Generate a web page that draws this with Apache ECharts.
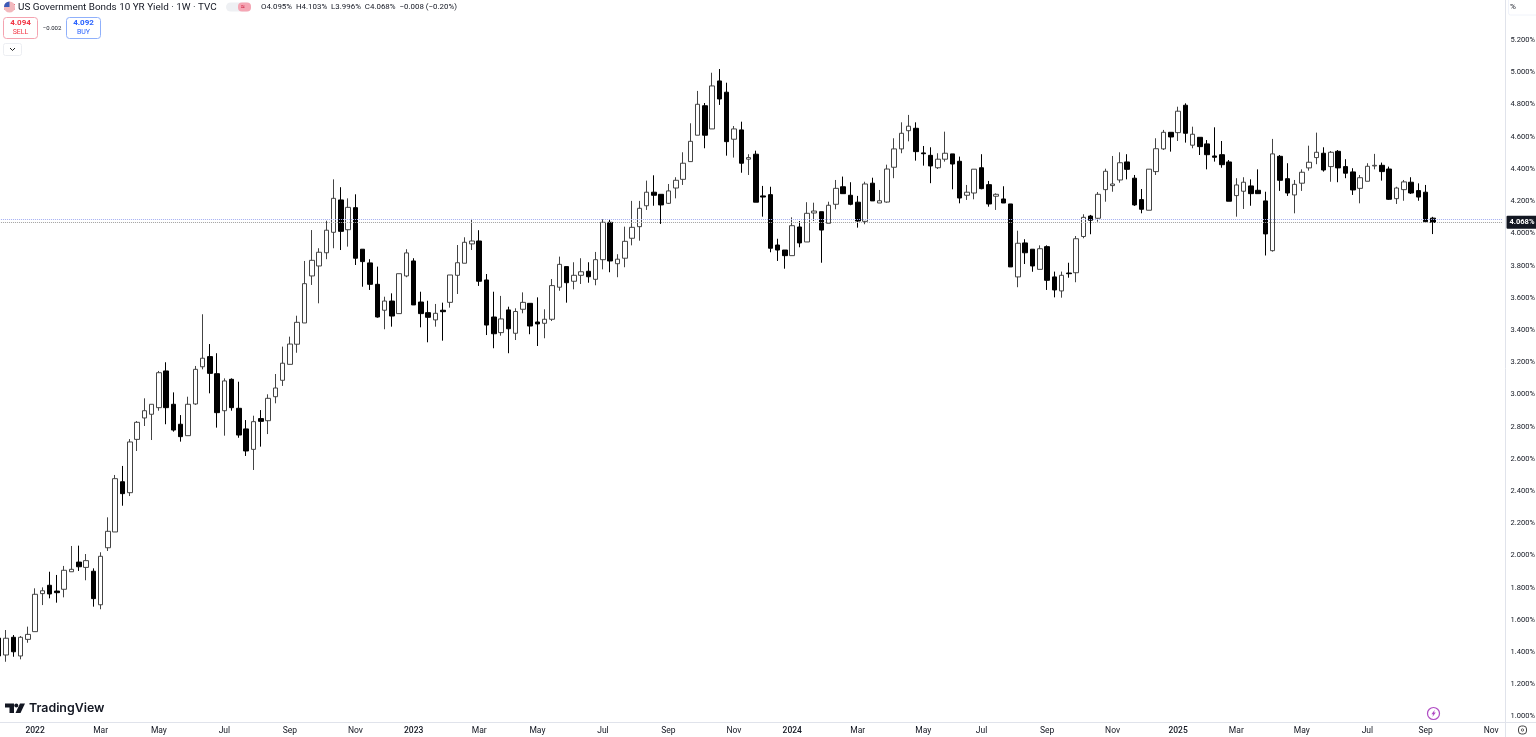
<!DOCTYPE html>
<html><head><meta charset="utf-8">
<style>html,body{margin:0;padding:0;background:#fff}#c{width:1536px;height:737px}</style>
<script src="https://cdn.jsdelivr.net/npm/echarts@6/dist/echarts.min.js"></script>
</head><body><div id="c"></div>
<script>
const firstWeek = '2021-11-29';
const weekCount = 207;
const monthTicks = {0:'',2:'Mar',4:'May',6:'Jul',8:'Sep',10:'Nov'};
const opens = [
1.487,1.382,1.492,1.376,1.479,1.527,1.763,1.815,1.779,1.790,
1.899,1.959,1.926,1.902,1.694,2.048,2.146,2.458,2.390,2.721,
2.854,2.877,2.918,3.146,2.939,2.815,2.744,2.941,3.172,3.235,
3.129,2.899,3.094,2.914,2.786,2.659,2.850,2.837,2.986,3.088,
3.187,3.312,3.444,3.736,3.798,3.880,4.007,4.208,4.023,4.160,
3.902,3.817,3.684,3.523,3.580,3.502,3.736,3.829,3.574,3.508,
3.463,3.523,3.572,3.740,3.815,3.935,3.953,3.711,3.481,3.384,
3.525,3.380,3.529,3.566,3.450,3.442,3.467,3.666,3.794,3.703,
3.740,3.765,3.715,3.837,4.069,3.812,3.846,3.970,4.042,4.172,
4.256,4.243,4.187,4.282,4.336,4.446,4.610,4.793,4.649,4.947,
4.877,4.585,4.643,4.461,4.492,4.233,4.241,3.928,3.897,3.862,
4.040,3.947,4.127,4.135,4.063,4.181,4.290,4.237,4.194,4.075,
4.312,4.189,4.195,4.411,4.525,4.638,4.653,4.500,4.485,4.408,
4.461,4.494,4.448,4.237,4.251,4.408,4.303,4.231,4.214,4.183,
3.730,3.941,3.902,3.777,3.918,3.730,3.643,3.754,3.756,3.981,
4.108,4.094,4.272,4.297,4.332,4.444,4.343,4.210,4.144,4.384,
4.525,4.628,4.626,4.796,4.548,4.597,4.556,4.481,4.489,4.444,
4.235,4.262,4.295,4.268,4.202,3.893,4.479,4.340,4.239,4.312,
4.407,4.471,4.498,4.415,4.510,4.415,4.382,4.280,4.324,4.419,
4.423,4.400,4.216,4.272,4.318,4.266,4.256,4.095];
const closes = [
1.376,1.486,1.402,1.492,1.510,1.759,1.781,1.761,1.769,1.908,
1.914,1.930,1.968,1.732,1.995,2.150,2.477,2.384,2.705,2.827,
2.899,2.939,3.135,2.918,2.779,2.738,2.939,3.156,3.225,3.131,
2.887,3.084,2.918,2.748,2.649,2.831,2.833,2.976,3.040,3.194,
3.313,3.448,3.688,3.833,3.883,4.020,4.218,4.013,4.162,3.846,
3.825,3.684,3.481,3.580,3.487,3.750,3.879,3.556,3.502,3.479,
3.504,3.514,3.742,3.818,3.945,3.953,3.703,3.431,3.377,3.469,
3.408,3.515,3.572,3.425,3.438,3.467,3.676,3.808,3.694,3.740,
3.762,3.731,3.837,4.069,3.829,3.840,3.951,4.038,4.156,4.256,
4.237,4.177,4.264,4.330,4.436,4.572,4.802,4.610,4.916,4.835,
4.570,4.649,4.436,4.471,4.194,4.226,3.908,3.897,3.862,4.048,
3.941,4.125,4.139,4.021,4.175,4.280,4.247,4.181,4.077,4.307,
4.202,4.203,4.400,4.525,4.622,4.666,4.508,4.495,4.419,4.461,
4.498,4.431,4.220,4.256,4.399,4.278,4.183,4.243,4.189,3.792,
3.939,3.880,3.798,3.905,3.709,3.649,3.740,3.750,3.967,4.100,
4.082,4.243,4.386,4.307,4.439,4.398,4.177,4.150,4.399,4.526,
4.628,4.599,4.759,4.622,4.616,4.539,4.489,4.473,4.427,4.200,
4.301,4.318,4.247,4.247,3.997,4.494,4.330,4.251,4.305,4.380,
4.442,4.504,4.394,4.504,4.407,4.374,4.270,4.346,4.417,4.423,
4.384,4.212,4.282,4.320,4.251,4.226,4.073,4.068];
const highs = [
1.537,1.537,1.506,1.500,1.558,1.796,1.802,1.899,1.879,1.935,
2.059,2.061,2.009,1.920,2.020,2.237,2.500,2.556,2.723,2.835,
2.976,2.939,3.146,3.200,3.013,2.872,2.986,3.177,3.498,3.313,
3.256,3.100,3.100,3.079,2.841,2.868,2.903,3.001,3.127,3.297,
3.359,3.489,3.829,4.021,3.908,4.079,4.336,4.287,4.218,4.243,
3.902,3.840,3.794,3.607,3.628,3.750,3.902,3.846,3.638,3.582,
3.562,3.570,3.742,3.928,3.976,4.090,4.020,3.748,3.638,3.612,
3.545,3.535,3.634,3.566,3.603,3.529,3.717,3.856,3.794,3.821,
3.846,3.821,3.885,4.088,4.088,3.871,4.042,4.202,4.202,4.328,
4.361,4.243,4.307,4.349,4.504,4.684,4.885,4.810,4.998,5.021,
4.936,4.667,4.694,4.492,4.514,4.295,4.290,3.967,3.897,4.100,
4.077,4.194,4.191,4.135,4.197,4.332,4.353,4.318,4.233,4.321,
4.346,4.270,4.427,4.591,4.690,4.736,4.690,4.543,4.535,4.498,
4.632,4.494,4.477,4.301,4.399,4.492,4.326,4.249,4.293,4.183,
4.017,3.964,3.902,3.926,3.926,3.763,3.763,3.818,3.984,4.119,
4.115,4.257,4.402,4.481,4.504,4.492,4.363,4.276,4.399,4.591,
4.643,4.628,4.787,4.808,4.663,4.597,4.580,4.659,4.574,4.456,
4.343,4.349,4.336,4.398,4.259,4.587,4.487,4.436,4.332,4.398,
4.545,4.626,4.535,4.512,4.518,4.461,4.405,4.363,4.436,4.494,
4.440,4.415,4.290,4.332,4.349,4.311,4.301,4.103];
const lows = [
1.338,1.340,1.371,1.355,1.458,1.527,1.692,1.734,1.707,1.740,
1.899,1.904,1.846,1.682,1.666,2.028,2.146,2.309,2.369,2.649,
2.804,2.717,2.899,2.815,2.769,2.707,2.744,2.935,3.156,3.007,
2.794,2.744,2.899,2.731,2.618,2.531,2.676,2.754,2.945,3.053,
3.187,3.259,3.444,3.680,3.566,3.840,3.908,3.897,3.918,3.804,
3.669,3.649,3.477,3.405,3.421,3.502,3.728,3.556,3.417,3.324,
3.421,3.334,3.539,3.624,3.815,3.897,3.674,3.369,3.287,3.365,
3.256,3.338,3.504,3.374,3.301,3.349,3.456,3.644,3.570,3.653,
3.686,3.694,3.678,3.777,3.759,3.728,3.790,3.926,3.955,4.146,
4.172,4.059,4.183,4.218,4.301,4.446,4.610,4.529,4.649,4.798,
4.483,4.471,4.377,4.363,4.194,4.104,3.883,3.829,3.781,3.862,
3.914,3.947,4.077,3.818,4.063,4.150,4.247,4.175,4.036,4.057,
4.202,4.189,4.191,4.343,4.498,4.572,4.452,4.421,4.312,4.400,
4.446,4.274,4.187,4.208,4.212,4.274,4.166,4.146,4.189,3.792,
3.666,3.810,3.762,3.777,3.649,3.603,3.601,3.725,3.697,3.970,
3.995,4.073,4.197,4.259,4.315,4.336,4.171,4.125,4.144,4.363,
4.518,4.508,4.574,4.564,4.529,4.487,4.398,4.446,4.408,4.200,
4.104,4.152,4.172,4.247,3.863,3.887,4.264,4.233,4.125,4.264,
4.390,4.430,4.384,4.321,4.318,4.343,4.239,4.187,4.324,4.398,
4.328,4.208,4.183,4.203,4.245,4.203,4.067,3.996];
const lastPrice = 4.068, buyPrice = 4.092;
const headerTitle = 'US Government Bonds 10 YR Yield · 1W · TVC';
const headerOhlc = 'O4.095%  H4.103%  L3.996%  C4.068%  −0.008 (−0.20%)';

const categories = [];
for (let i = 0; i < weekCount; i++) {
  const d = new Date(Date.parse(firstWeek + 'T00:00:00Z') + i * 7 * 864e5);
  categories.push(d.toISOString().slice(0, 10));
}
function tickOf(s) {
  const y = +s.slice(0, 4), m = +s.slice(5, 7) - 1, day = +s.slice(8, 10);
  if (day > 7 || !(m in monthTicks)) return null;
  return m === 0 ? String(y) : monthTicks[m];
}
const font = 'Roboto, "Liberation Sans", sans-serif';
const ink = '#131722', rule = '#e0e3eb';
const T = (x, y, text, o) => ({type:'text', x, y, silent:true, z:50,
  style:Object.assign({text, fill:ink, font:'9px '+font, textVerticalAlign:'middle'}, o||{})});
const R = (x, y, w, h, r, fill, stroke) => ({type:'rect', silent:true, z:49,
  shape:{x, y, width:w, height:h, r}, style:{fill, stroke, lineWidth:1}});
const L = (x1, y1, x2, y2, c) => ({type:'line', silent:true, z:48,
  shape:{x1, y1, x2, y2}, style:{stroke:c, lineWidth:1}});
const graphics = [
  L(1505.5, 0, 1505.5, 737, rule),
  L(0, 722.5, 1536, 722.5, rule),
  R(1508.5, -2, 30, 17, 2, '#fff', '#f0f3fa'),
  T(1510, 7, '%', {font:'8px '+font}),
  {type:'circle', silent:true, z:49, shape:{cx:9.5, cy:7, r:5.5}, style:{fill:'#f2b8bd'}},
  {type:'sector', silent:true, z:50, shape:{cx:9.5, cy:7, r:5.5, startAngle:Math.PI, endAngle:Math.PI*1.5}, style:{fill:'#3a5bb8'}},
  L(9.5, 4.5, 15, 4.5, '#e2535f'), L(4, 9, 15, 9, '#e2535f'),
  T(18, 7.5, headerTitle, {font:'9.9px '+font}),
  R(226, 2.5, 25, 9, 4.5, '#eef0f3', null),
  R(238, 2.5, 13, 9, 4, '#f5a6b4', null),
  L(229, 7, 234, 7, '#777'),
  T(241, 7, '≈', {font:'bold 7px '+font, fill:'#d02a4a'}),
  T(261, 7.5, headerOhlc, {font:'7.9px '+font}),
  R(3.5, 17.5, 34, 21, 3, '#fff', '#f4a3b0'),
  T(20.5, 23, '4.094', {font:'bold 8px '+font, fill:'#f23645', textAlign:'center'}),
  T(20.5, 32, 'SELL', {font:'7px '+font, fill:'#f23645', textAlign:'center'}),
  T(52, 28, '−0.002', {font:'6px '+font, textAlign:'center'}),
  R(66.5, 17.5, 34, 21, 3, '#fff', '#8fb0fb'),
  T(83.5, 23, '4.092', {font:'bold 8px '+font, fill:'#2962ff', textAlign:'center'}),
  T(83.5, 32, 'BUY', {font:'7px '+font, fill:'#2962ff', textAlign:'center'}),
  R(3.5, 43.5, 18, 12, 2, '#fff', '#eceef2'),
  {type:'polyline', silent:true, z:50, shape:{points:[[10,48],[12.5,50.5],[15,48]]}, style:{stroke:'#222', fill:null, lineWidth:1}},
  {type:'polygon', silent:true, z:50, shape:{points:[[5,703.5],[14,703.5],[14,713],[9.5,713],[9.5,707.5],[5,707.5]]}, style:{fill:ink}},
  {type:'circle', silent:true, z:50, shape:{cx:16.3, cy:705.5, r:2}, style:{fill:ink}},
  {type:'polygon', silent:true, z:50, shape:{points:[[20,703.5],[25,703.5],[20.5,713],[15.5,713]]}, style:{fill:ink}},
  T(29, 708.5, 'TradingView', {font:'600 12.4px Inter, '+font}),
  {type:'circle', silent:true, z:50, shape:{cx:1433.5, cy:713.5, r:6}, style:{fill:'#fff', stroke:'#b04bc4', lineWidth:1.2}},
  {type:'polygon', silent:true, z:51, shape:{points:[[1434.8,709.8],[1431.4,714.2],[1433.2,714.2],[1432.4,717],[1435.8,712.6],[1434,712.6]]}, style:{fill:'#b04bc4'}},
  {type:'rect', silent:true, z:50, shape:{x:1518.5, y:726, width:8, height:8, r:3}, style:{fill:'#fff', stroke:'#444', lineWidth:1}},
  {type:'circle', silent:true, z:51, shape:{cx:1522.5, cy:730, r:1.2}, style:{fill:'#fff', stroke:'#444', lineWidth:0.8}}
];
const chart = echarts.init(document.getElementById('c'), null, {renderer:'canvas'});
chart.setOption({
  animation:false, backgroundColor:'#fff',
  grid:{left:-4.92, width:1506.96, top:8, height:708.5, containLabel:false, outerBoundsMode:'none'},
  xAxis:{type:'category', data:categories, offset:5.5, boundaryGap:true,
    axisLine:{show:false}, axisTick:{show:false}, splitLine:{show:false},
    axisLabel:{margin:4, fontFamily:font, fontSize:8.5, color:ink, hideOverlap:false,
      interval:(i, v) => tickOf(v) !== null,
      formatter:(v) => { const t = tickOf(v); return t === null ? '' : (/^\d/.test(t) ? '{y|'+t+'}' : t); },
      rich:{y:{fontFamily:font, fontSize:8.5, fontWeight:500, color:ink}}}},
  yAxis:{type:'value', position:'right', offset:4, min:1, max:5.4, interval:0.2, scale:true,
    axisLine:{show:false}, axisTick:{show:false}, splitLine:{show:false},
    axisLabel:{margin:4.5, align:'left', fontFamily:font, fontSize:7.5, color:ink, padding:[5,0,0,0],
      showMaxLabel:true,
      formatter:(v) => v > 5.3 ? '' : v.toFixed(3) + '%'}},
  series:[{type:'candlestick', barWidth:5,
    data:opens.map((o, i) => [o, closes[i], lows[i], highs[i]]),
    itemStyle:{color:'#ffffff', color0:'#000000', borderColor:'#444444', borderColor0:'#000000', borderWidth:1},
    markLine:{silent:true, symbol:'none', animation:false,
      data:[
        {yAxis:buyPrice, lineStyle:{color:'#a3aef2', type:[1,1], width:1}, label:{show:false}},
        {yAxis:lastPrice, lineStyle:{color:'#a0a0a0', type:[1,1], width:1},
          label:{show:true, position:'end', distance:4.5, formatter:lastPrice.toFixed(3)+'%',
            backgroundColor:'#131722', color:'#fff', fontFamily:font, fontWeight:'bold', fontSize:7.5,
            padding:[3,3,2,3], borderRadius:1}}
      ]}}],
  graphic:{elements:graphics}
});
</script></body></html>
